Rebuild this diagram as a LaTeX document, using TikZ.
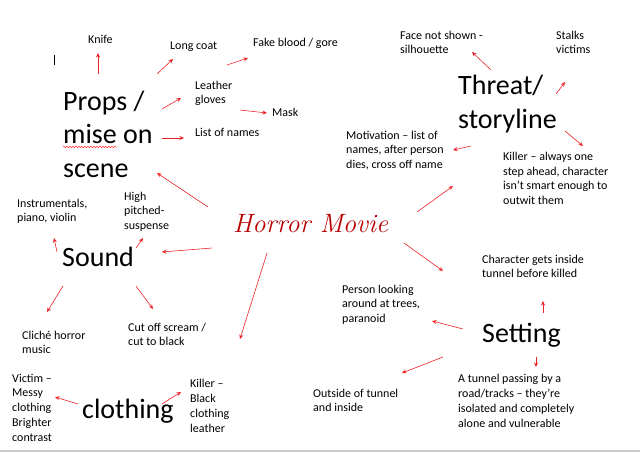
\documentclass[tikz,border=0pt]{standalone}
\usepackage{fontspec}
\setmainfont{Carlito}
\usetikzlibrary{arrows.meta,decorations.pathmorphing}
\definecolor{arrowred}{RGB}{235,35,40}
\definecolor{titlered}{RGB}{185,0,0}
\tikzset{
  note/.style={anchor=base west, inner sep=0pt, align=left, font=\fontsize{12}{14.7}\selectfont},
  topic/.style={anchor=base west, inner sep=0pt, align=left, font=\fontsize{28}{33.5}\selectfont},
  arr/.style={arrowred, line width=0.6pt, -{Stealth[length=4.5pt,width=4pt]}}
}
\begin{document}
\begin{tikzpicture}[x=1pt,y=-1pt]
\useasboundingbox (0,0) rectangle (640,453);

%bottom edge of the page
\draw[black!20, line width=1.2pt] (0,451) -- (640,451);

%centre title
\node[anchor=base west, inner sep=0pt, text=titlered, font=\fontsize{26.5}{32}\usefont{TU}{lmr}{m}{it}] (title) at (233,232) {Horror Movie};

%main topics (placed by the baseline of their last line)
\node[topic] (props) at (63,177) {Props /\\mise on\\scene};
\node[topic] (threat) at (458,128) {Threat/\\storyline};
\node[topic] (sound) at (62,266) {Sound};
\node[topic] (setting) at (482,342) {Setting};
\node[topic] (cloth) at (82,418) {clothing};

%spell check line and cursor
\draw[red, decorate, decoration={snake, amplitude=0.7pt, segment length=3pt}] (63,147) -- (117,147);
\draw[black, line width=0.5pt] (54,55) -- (54,65);

%props notes
\node[note] (knife) at (88,43) {Knife};
\node[note] (coat) at (170,49) {Long coat};
\node[note] (blood) at (253,46) {Fake blood / gore};
\node[note] (gloves) at (195,103.7) {Leather\\gloves};
\node[note] (mask) at (272,116) {Mask};
\node[note] (names) at (195,136) {List of names};

%sound notes
\node[note] (instr) at (17,221.7) {Instrumentals,\\piano, violin};
\node[note] (pitch) at (124,229.4) {High\\pitched-\\suspense};
\node[note] (cliche) at (22,353.7) {Cliché horror\\music};
\node[note] (scream) at (128,345.7) {Cut off scream /\\cut to black};

%clothing notes
\node[note] (victim) at (12,441) {Victim --\\Messy\\clothing\\Brighter\\contrast};
\node[note] (killer) at (190,432) {Killer --\\Black\\clothing\\leather};

%threat notes
\node[note] (face) at (400,53.7) {Face not shown -\\silhouette};
\node[note] (stalks) at (556,53.7) {Stalks\\victims};
\node[note] (motive) at (346,168.4) {Motivation -- list of\\names, after person\\dies, cross off name};
\node[note] (ahead) at (503,204.5) {Killer -- always one\\step ahead, character\\isn’t smart enough to\\outwit them};

%setting notes
\node[note] (inside) at (482,277.7) {Character gets inside\\tunnel before killed};
\node[note] (trees) at (342,322.4) {Person looking\\around at trees,\\paranoid};
\node[note] (outside) at (313,411.7) {Outside of tunnel\\and inside};
\node[note] (tunnel) at (458,427) {A tunnel passing by a\\road/tracks -- they’re\\isolated and completely\\alone and vulnerable};

%arrows
\foreach \xa/\ya/\xb/\yb [count=\i] in {
    98/74/98/53, 157/74/173/59, 227/65/248/58, 162/109/181/98,
    240/110/267/113, 162/138/184/138, 208/207/157/173,
    491/70/472/52, 556/94/565/82, 565/131/583/146, 471/146/453/150,
    417/212/453/186,
    57/252/54/238, 136/248/143/238, 212/248/162/252, 63/286/47/312,
    136/286/153/309, 267/253/240/339, 78/404/55/397, 162/404/181/392,
    404/243/443/271, 543/313/543/301, 463/329/432/321, 536/357/536/367,
    443/357/402/373}
{
    \coordinate (a\i) at (\xa,\ya);
    \coordinate (b\i) at (\xb,\yb);
    \draw[arr] (a\i) -- (b\i);
}

\end{tikzpicture}
\end{document}
